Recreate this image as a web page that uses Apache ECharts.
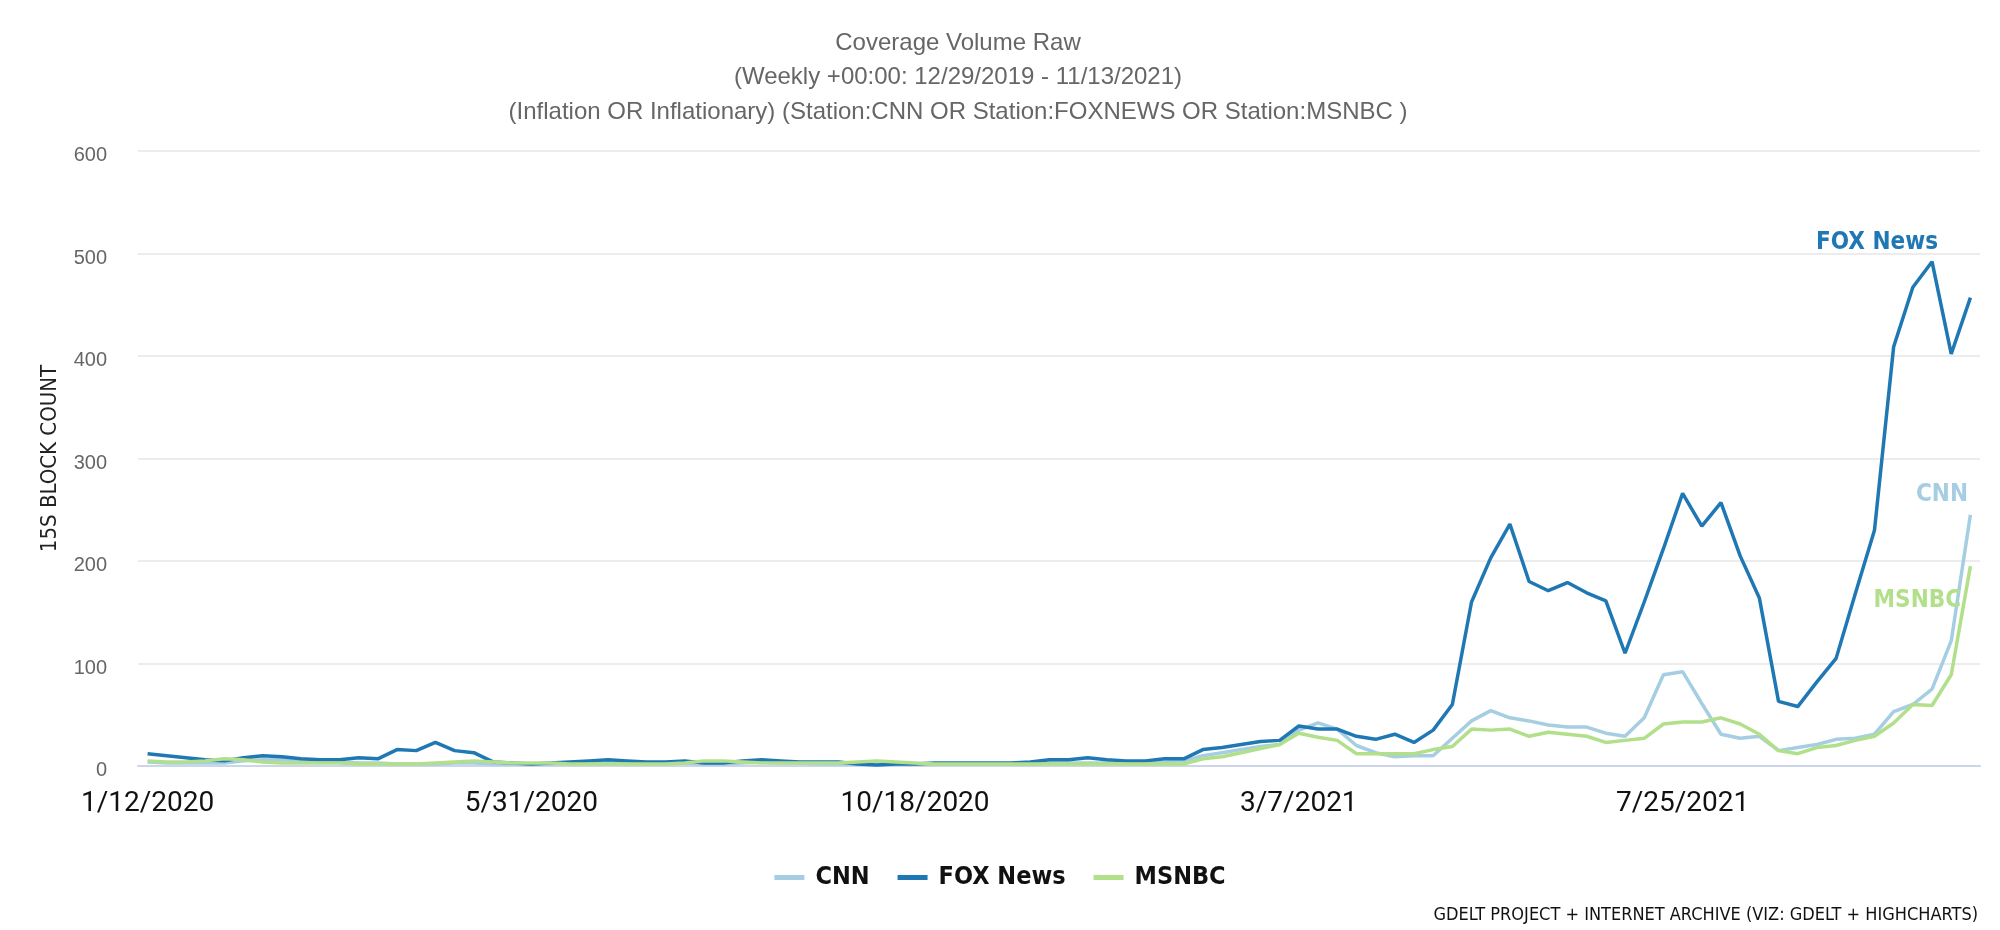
<!DOCTYPE html>
<html>
<head>
<meta charset="utf-8">
<title>Coverage Volume Raw</title>
<script src="https://cdn.jsdelivr.net/npm/echarts@6/dist/echarts.min.js"></script>
<style>
  html, body { margin: 0; padding: 0; background: #fff; }
  #chart { width: 2000px; height: 930px; }
</style>
</head>
<body>
<div id="chart"></div>
<script>
// weekly buckets, first week 1/12/2020, last week 11/7/2021
var weekCount = 96
var weeks = []
for (var i = 0; i < weekCount; i++) {
  var d = new Date(2020, 0, 12 + i * 7)
  weeks.push((d.getMonth() + 1) + '/' + d.getDate() + '/' + d.getFullYear())
}

var cnn = [
  4, 3, 3, 3, 3, 5, 6, 6, 5, 4, 4, 3, 3, 2, 2, 2, 3, 3, 2, 2,
  2, 2, 3, 3, 4, 3, 3, 3, 3, 2, 2, 3, 4, 3, 3, 2, 2, 2, 2, 2,
  2, 2, 2, 2, 2, 2, 2, 3, 3, 3, 3, 3, 3, 4, 5, 10, 13, 16, 19, 21,
  35, 42, 36, 20, 13, 9, 10, 10, 27, 44, 54, 47, 44, 40, 38, 38, 32, 29, 47, 89,
  92, 61, 31, 27, 29, 15, 18, 21, 26, 27, 31, 53, 60, 75, 122, 245
]
var foxNews = [
  12, 10, 8, 6, 5, 8, 10, 9, 7, 6, 6, 8, 7, 16, 15, 23, 15, 13, 4, 3,
  2, 3, 4, 5, 6, 5, 4, 4, 5, 3, 3, 5, 6, 5, 4, 4, 4, 2, 1, 2,
  2, 3, 3, 3, 3, 3, 4, 6, 6, 8, 6, 5, 5, 7, 7, 16, 18, 21, 24, 25,
  39, 36, 36, 29, 26, 31, 23, 35, 60, 160, 203, 236, 180, 171, 179, 169, 161, 110, 160, 212,
  266, 234, 257, 205, 164, 63, 58, 82, 105, 168, 230, 409, 467, 492, 402, 457
]
var msnbc = [
  5, 4, 4, 5, 7, 6, 4, 3, 3, 3, 3, 2, 2, 2, 2, 3, 4, 5, 4, 3,
  3, 3, 2, 2, 2, 2, 2, 2, 3, 5, 5, 4, 3, 3, 3, 3, 3, 4, 5, 4,
  3, 2, 2, 2, 2, 2, 2, 2, 2, 2, 2, 2, 2, 2, 2, 7, 9, 13, 17, 21,
  32, 28, 25, 12, 12, 12, 12, 16, 19, 36, 35, 36, 29, 33, 31, 29, 23, 25, 27, 41,
  43, 43, 47, 41, 31, 15, 12, 18, 20, 25, 29, 42, 60, 59, 89, 195
]

var seriesNames = ['CNN', 'FOX News', 'MSNBC']
var seriesColors = ['#a6cee3', '#1f78b4', '#b2df8a']
var titleLines = [
  'Coverage Volume Raw',
  '(Weekly +00:00: 12/29/2019 - 11/13/2021)',
  '(Inflation OR Inflationary) (Station:CNN OR Station:FOXNEWS OR Station:MSNBC )'
]
var credits = 'GDELT PROJECT + INTERNET ARCHIVE (VIZ: GDELT + HIGHCHARTS)'

var narrow = "'Liberation Sans Narrow', 'DejaVu Sans Condensed', sans-serif"

var chart = echarts.init(document.getElementById('chart'), null, { renderer: 'canvas' })

var graphics = []
titleLines.forEach(function (t, k) {
  graphics.push({
    type: 'text', x: 958, y: 43 + k * 34.5,
    style: { text: t, fill: '#666', font: "24px 'Liberation Sans', sans-serif", textAlign: 'center', textVerticalAlign: 'middle' }
  })
})
// end-of-line series labels
var seriesLabels = [
  { text: 'CNN', x: 1968, y: 495, color: seriesColors[0] },
  { text: 'FOX News', x: 1938, y: 243, color: seriesColors[1] },
  { text: 'MSNBC', x: 1961, y: 601, color: seriesColors[2] }
]
seriesLabels.forEach(function (l) {
  graphics.push({
    type: 'text', x: l.x, y: l.y, z: 10,
    style: { text: l.text, fill: l.color, font: 'bold 24px ' + narrow, textAlign: 'right', textVerticalAlign: 'middle' }
  })
})
graphics.push({
  type: 'text', x: 1978, y: 915,
  style: { text: credits, fill: '#111', font: '18px ' + narrow, textAlign: 'right', textVerticalAlign: 'middle' }
})

var option = {
  backgroundColor: '#fff',
  animation: false,
  color: seriesColors,
  grid: { left: 138, right: 20, top: 151, bottom: 164 },
  legend: {
    data: seriesNames,
    bottom: 35,
    left: 'center',
    icon: 'rect',
    itemWidth: 30,
    itemHeight: 5,
    itemGap: 28,
    textStyle: { color: '#111', fontFamily: narrow, fontWeight: 'bold', fontSize: 25, padding: [0, 0, 0, 6] }
  },
  xAxis: {
    type: 'category',
    data: weeks,
    boundaryGap: true,
    axisLine: { lineStyle: { color: '#ccd6eb', width: 2 } },
    axisTick: { interval: 19, alignWithLabel: true, length: 16, lineStyle: { color: '#ccd6eb', width: 2 } },
    axisLabel: { interval: 19, margin: 24, color: '#111', fontFamily: 'Roboto', fontSize: 28 },
    splitLine: { show: false }
  },
  yAxis: {
    type: 'value',
    min: 0,
    max: 600,
    interval: 100,
    name: '15S BLOCK COUNT',
    nameLocation: 'middle',
    nameGap: 77,
    nameTextStyle: { color: '#222', fontFamily: narrow, fontSize: 22 },
    axisLine: { show: false },
    axisTick: { show: false },
    axisLabel: {
      margin: 31,
      formatter: '{v|{value}}',
      rich: { v: { color: '#666', fontFamily: "'Liberation Sans', sans-serif", fontSize: 20, padding: [9, 0, 0, 0] } }
    },
    splitLine: { lineStyle: { color: '#e6e6e6', width: 1.5 } }
  },
  series: [
    { name: seriesNames[0], type: 'line', data: cnn, symbol: 'none', lineStyle: { width: 3.5 } },
    { name: seriesNames[1], type: 'line', data: foxNews, symbol: 'none', lineStyle: { width: 3.5 } },
    { name: seriesNames[2], type: 'line', data: msnbc, symbol: 'none', lineStyle: { width: 3.5 } }
  ],
  graphic: graphics
}
chart.setOption(option)
</script>
</body>
</html>
